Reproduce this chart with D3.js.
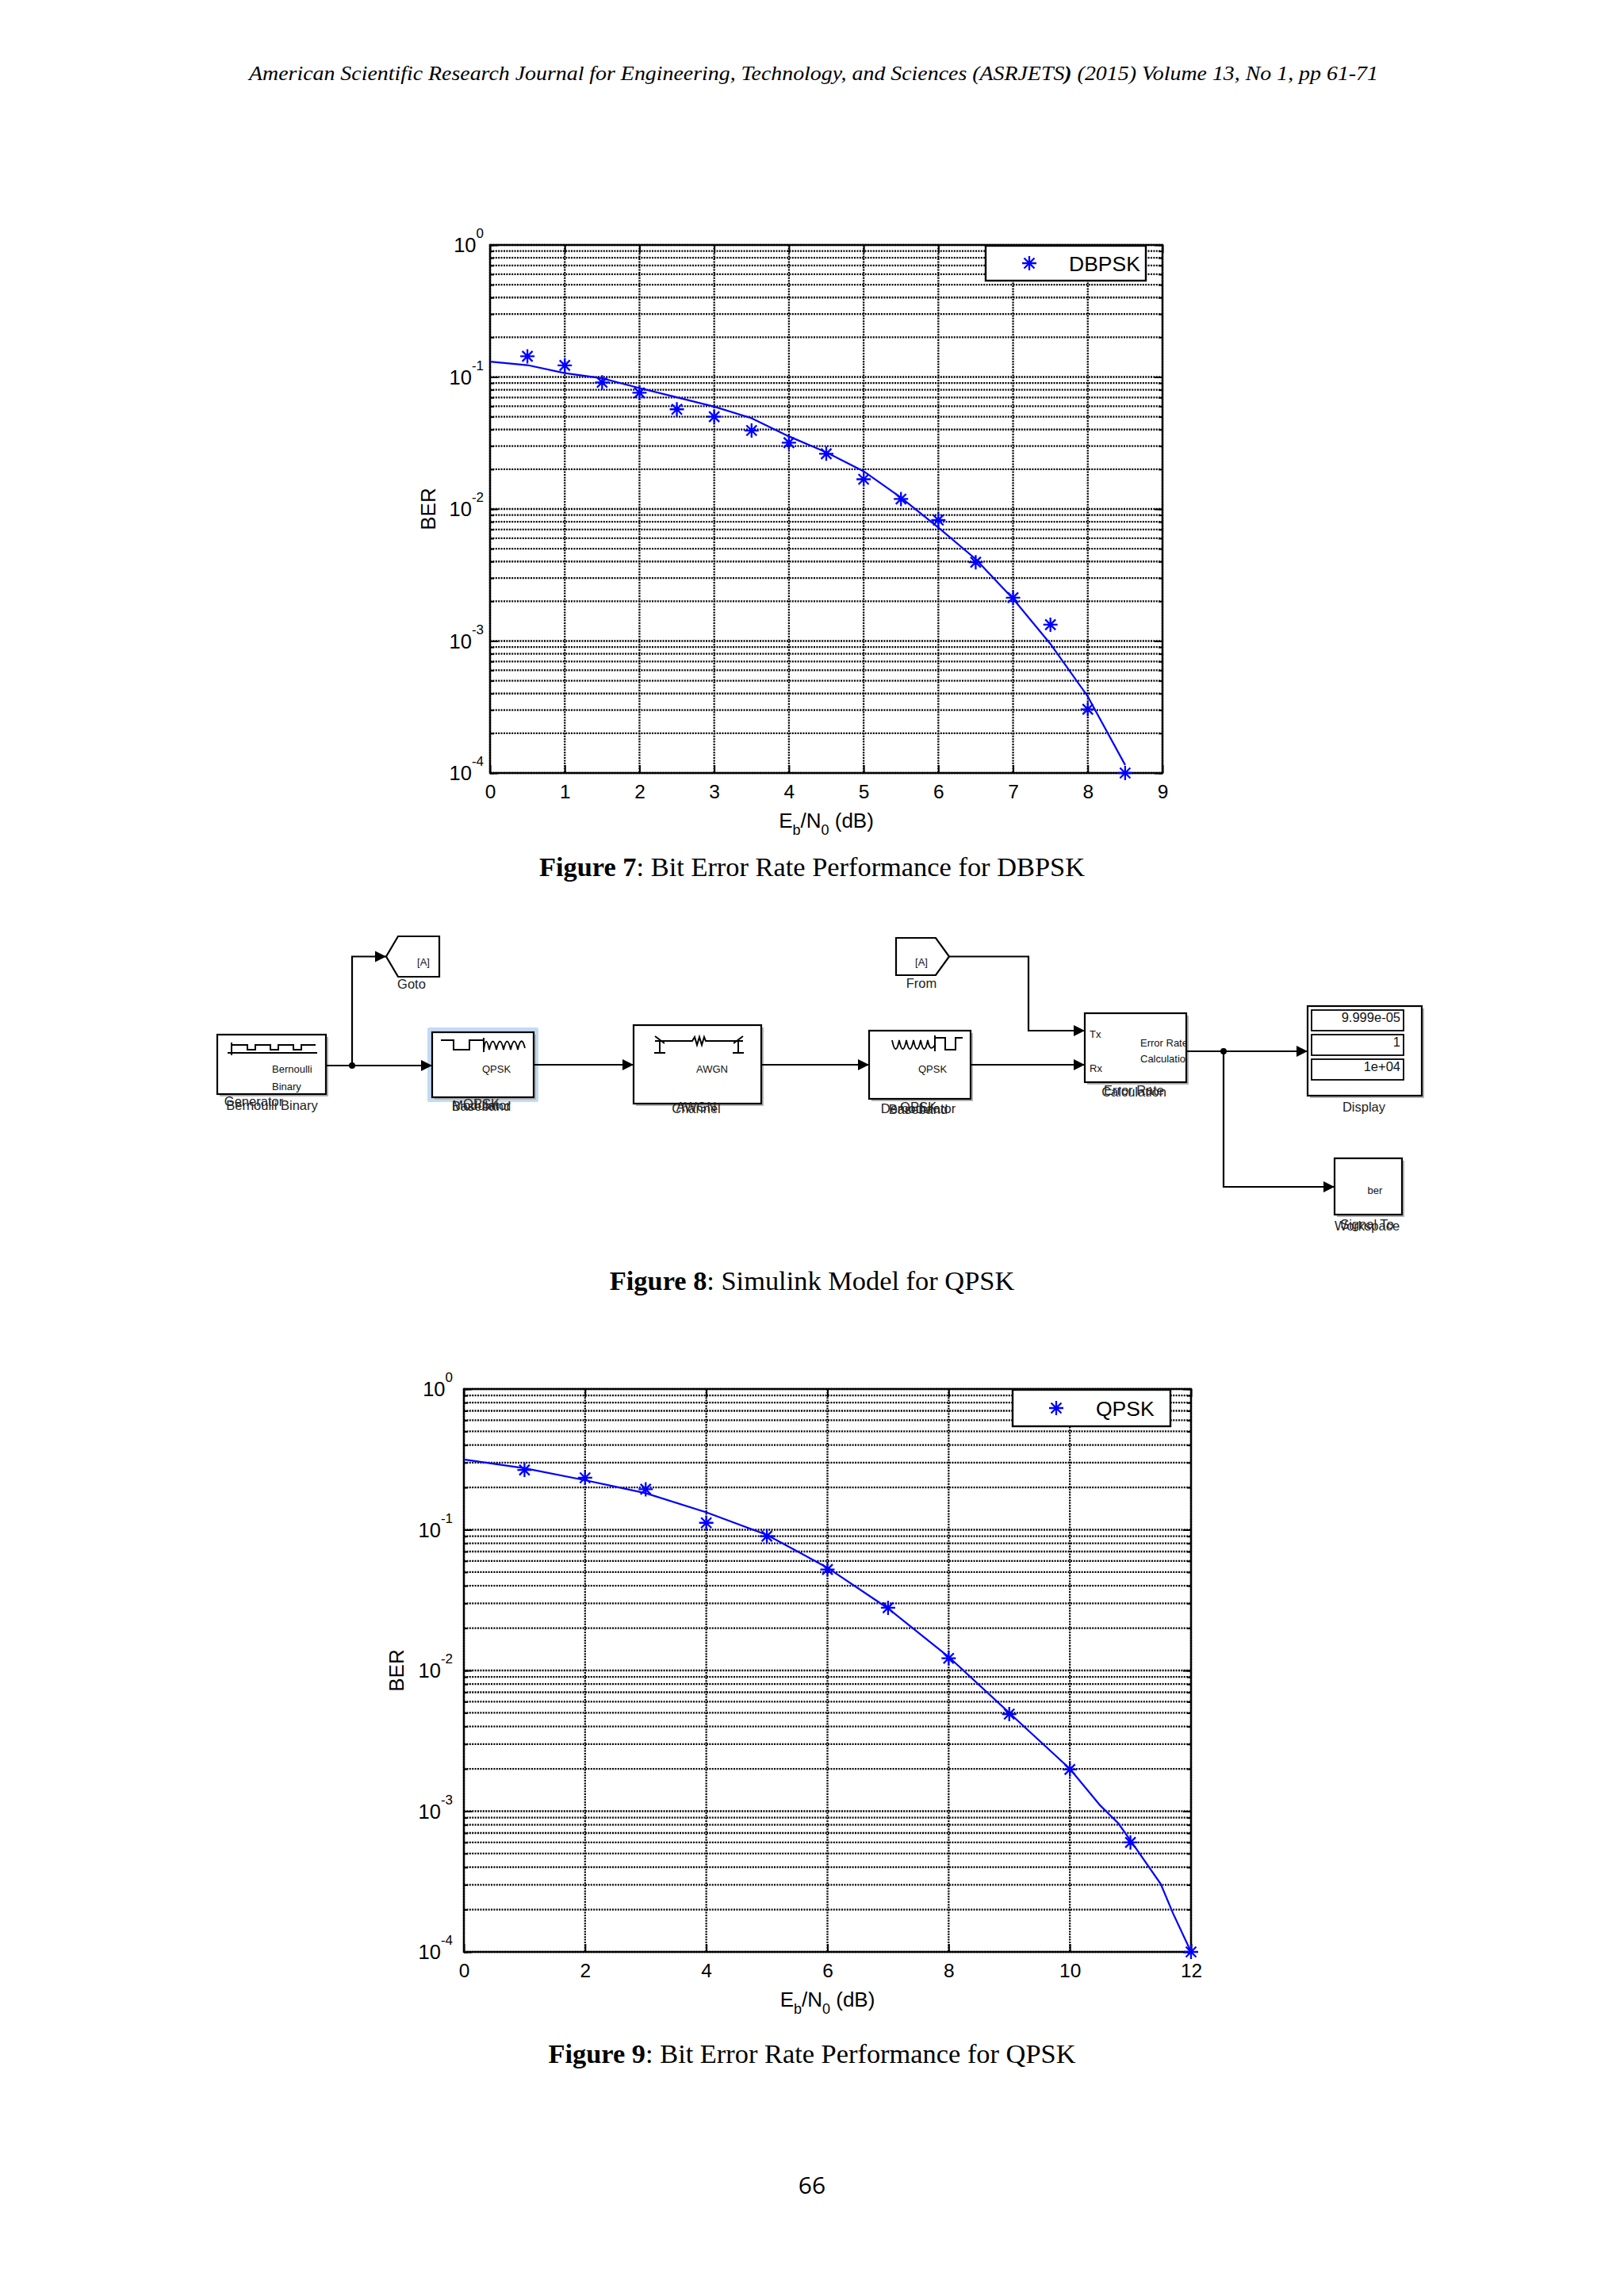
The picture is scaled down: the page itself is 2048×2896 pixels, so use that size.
<!doctype html>
<html lang="en">

<head>
  <meta charset="utf-8">
  <title>ASRJETS p.66 - BER for DBPSK and QPSK</title>
  <style>
    * { margin: 0; padding: 0; box-sizing: border-box; }
    body { background: #fff; }
    #page { width: 2048px; height: 2896px; }
  </style>
</head>

<body>
  <div id="page"></div>
  <script src="https://cdn.jsdelivr.net/npm/d3@7/dist/d3.min.js"></script>
  <script>
    // ---- data ----
    const dbpskSnr = [0.5, 1, 1.5, 2, 2.5, 3, 3.5, 4, 4.5, 5, 5.5, 6, 6.5, 7, 7.5, 8, 8.5];
    const dbpskBer = [0.1435, 0.1224, 0.091, 0.0759, 0.0569, 0.050, 0.0393, 0.0318, 0.0262,
                      0.0168, 0.0119, 0.00824, 0.00395, 0.00213, 0.00133, 0.000304, 0.0001];
    const dbpskCurveSnr = [0, 0.5, 1, 1.5, 2, 2.5, 3, 3.5, 4, 4.5, 5, 5.5, 6, 6.5, 7, 7.5, 8, 8.5];
    const dbpskCurveBer = [0.1306, 0.123, 0.107, 0.0977, 0.0824, 0.0701, 0.0596, 0.0487, 0.0355,
                           0.0269, 0.0193, 0.0122, 0.00724, 0.00417, 0.00209, 0.00095, 0.00038, 0.000115];

    const qpskSnr = [1, 2, 3, 4, 5, 6, 7, 8, 9, 10, 11, 12];
    const qpskBer = [0.266, 0.234, 0.194, 0.112, 0.090, 0.0522, 0.0279, 0.0122, 0.0049, 0.00198, 0.0006, 0.0001];
    const qpskCurveSnr = [0, 1, 2, 3, 4, 5, 6, 7, 8, 9, 10, 10.5, 10.8, 11, 11.5, 11.7, 12];
    const qpskCurveBer = [0.316, 0.274, 0.225, 0.182, 0.133, 0.092, 0.0537, 0.0276, 0.0125, 0.0050,
                          0.0020, 0.0011, 0.00082, 0.00062, 0.000304, 0.000189, 0.0001];

    const dbpskXTicks = [0, 1, 2, 3, 4, 5, 6, 7, 8, 9];
    const qpskXTicks = [0, 2, 4, 6, 8, 10, 12];
    const berExponents = [-4, -3, -2, -1, 0];

    const displayValues = ['9.999e-05', '1', '1e+04'];

    const headerText = 'American Scientific Research Journal for Engineering, Technology, and Sciences (ASRJETS';
    const headerTail = ' (2015) Volume 13, No  1, pp 61-71';

    const SANS = '"Liberation Sans", Arial, Helvetica, sans-serif';
    const SERIF = '"Liberation Serif", "Times New Roman", serif';

    const svg = d3.select('#page').append('svg')
      .attr('width', 2048).attr('height', 2896)
      .attr('viewBox', '0 0 2048 2896');
    svg.append('rect').attr('width', 2048).attr('height', 2896).attr('fill', '#fff');

    // ---- running header ----
    const head = svg.append('text')
      .attr('x', 1026).attr('y', 101)
      .attr('text-anchor', 'middle')
      .attr('font-family', SERIF).attr('font-style', 'italic').attr('font-size', 25)
      .attr('textLength', 1424).attr('lengthAdjust', 'spacingAndGlyphs');
    head.append('tspan').text(headerText);
    head.append('tspan').attr('font-weight', 'bold').text(')');
    head.append('tspan').text(headerTail);

    // asterisk marker like matlab '*'
    function starPath(r) {
      const k = r * 0.72;
      return `M0,${-r}V${r}M${-r},0H${r}M${-k},${-k}L${k},${k}M${-k},${k}L${k},${-k}`;
    }

    function drawBer(cfg) {
      const g = svg.append('g');
      const x = d3.scaleLinear().domain([0, cfg.xMax]).range([cfg.left, cfg.right]);
      const y = d3.scaleLog().domain([1e-4, 1]).range([cfg.bottom, cfg.top]);
      const minorY = y.ticks();
      const decades = berExponents.map(e => Math.pow(10, e));

      // dotted grid
      const grid = g.append('g')
        .attr('stroke', '#000').attr('stroke-width', 2.3).attr('stroke-dasharray', '2,1.4');
      grid.selectAll('line.h').data(minorY).join('line').attr('class', 'h')
        .attr('x1', cfg.left).attr('x2', cfg.right)
        .attr('y1', d => y(d)).attr('y2', d => y(d));
      grid.selectAll('line.v').data(cfg.xTicks).join('line').attr('class', 'v')
        .attr('x1', d => x(d)).attr('x2', d => x(d))
        .attr('y1', cfg.top).attr('y2', cfg.bottom);

      // inward ticks on all four sides
      const styleAxis = sel => {
        sel.select('.domain').remove();
        sel.selectAll('line').attr('stroke', '#000').attr('stroke-width', 2);
      };
      g.append('g').attr('transform', `translate(0,${cfg.bottom})`)
        .call(d3.axisBottom(x).tickValues(cfg.xTicks).tickSize(-10).tickSizeOuter(0).tickPadding(15)
          .tickFormat(d3.format('d')))
        .call(styleAxis)
        .call(s => s.selectAll('text').attr('font-family', SANS).attr('font-size', 24.5).attr('fill', '#000'));
      g.append('g').attr('transform', `translate(0,${cfg.top})`)
        .call(d3.axisTop(x).tickValues(cfg.xTicks).tickSize(-10).tickSizeOuter(0).tickFormat(''))
        .call(styleAxis);
      [[d3.axisLeft, cfg.left], [d3.axisRight, cfg.right]].forEach(([ax, px]) => {
        g.append('g').attr('transform', `translate(${px},0)`)
          .call(ax(y).tickValues(minorY).tickSize(-5).tickSizeOuter(0).tickFormat(''))
          .call(styleAxis);
        g.append('g').attr('transform', `translate(${px},0)`)
          .call(ax(y).tickValues(decades).tickSize(-10).tickSizeOuter(0).tickFormat(''))
          .call(styleAxis);
      });

      // y labels 10^n
      g.append('g').selectAll('text').data(berExponents).join('text')
        .attr('x', cfg.left - cfg.yLabelGap)
        .attr('y', e => y(Math.pow(10, e)) + 9)
        .attr('text-anchor', 'end')
        .attr('font-family', SANS).attr('font-size', 25.5).attr('fill', '#000')
        .each(function (e) {
          const t = d3.select(this);
          t.append('tspan').text('10');
          t.append('tspan').attr('dy', -18).attr('font-size', 17).text(e);
        });

      // box
      g.append('rect')
        .attr('x', cfg.left).attr('y', cfg.top)
        .attr('width', cfg.right - cfg.left).attr('height', cfg.bottom - cfg.top)
        .attr('fill', 'none').attr('stroke', '#000').attr('stroke-width', 2.4);

      // axis titles
      const xt = g.append('text')
        .attr('x', (cfg.left + cfg.right) / 2).attr('y', cfg.bottom + 69)
        .attr('text-anchor', 'middle')
        .attr('font-family', SANS).attr('font-size', 26).attr('fill', '#000');
      xt.append('tspan').text('E');
      xt.append('tspan').attr('dy', 9).attr('font-size', 18).text('b');
      xt.append('tspan').attr('dy', -9).text('/N');
      xt.append('tspan').attr('dy', 9).attr('font-size', 18).text('0');
      xt.append('tspan').attr('dy', -9).text(' (dB)');

      g.append('text')
        .attr('transform', `translate(${cfg.yTitleX},${(cfg.top + cfg.bottom) / 2}) rotate(-90)`)
        .attr('text-anchor', 'middle').attr('dy', '0.36em')
        .attr('font-family', SANS).attr('font-size', 26).attr('fill', '#000')
        .text('BER');

      // series
      const curve = cfg.curveSnr.map((s, i) => [s, cfg.curveBer[i]]);
      g.append('path').datum(curve)
        .attr('d', d3.line().x(d => x(d[0])).y(d => y(d[1])))
        .attr('fill', 'none').attr('stroke', '#0000ff').attr('stroke-width', 2.2);

      const pts = cfg.snr.map((s, i) => [s, cfg.ber[i]]);
      g.append('g').selectAll('path').data(pts).join('path')
        .attr('transform', d => `translate(${x(d[0])},${y(d[1])})`)
        .attr('d', starPath(9))
        .attr('fill', 'none').attr('stroke', '#0000ff').attr('stroke-width', 2.3);

      // legend
      const lg = g.append('g');
      lg.append('rect')
        .attr('x', cfg.legend.x).attr('y', cfg.top + 1)
        .attr('width', cfg.legend.w).attr('height', cfg.legend.h)
        .attr('fill', '#fff').attr('stroke', '#000').attr('stroke-width', 2.4);
      lg.append('path')
        .attr('transform', `translate(${cfg.legend.x + 55},${cfg.top + 1 + cfg.legend.h / 2})`)
        .attr('d', starPath(9))
        .attr('fill', 'none').attr('stroke', '#0000ff').attr('stroke-width', 2.3);
      lg.append('text')
        .attr('x', cfg.legend.x + 105).attr('y', cfg.top + 1 + cfg.legend.h / 2 + 10)
        .attr('font-family', SANS).attr('font-size', 26.5).attr('fill', '#000')
        .text(cfg.name);
    }

    drawBer({
      left: 618, right: 1466, top: 309, bottom: 975, xMax: 9, xTicks: dbpskXTicks,
      yLabelGap: 8, yTitleX: 540,
      snr: dbpskSnr, ber: dbpskBer, curveSnr: dbpskCurveSnr, curveBer: dbpskCurveBer,
      legend: { x: 1243, w: 202, h: 44 }, name: 'DBPSK'
    });

    drawBer({
      left: 585, right: 1502, top: 1752, bottom: 2462, xMax: 12, xTicks: qpskXTicks,
      yLabelGap: 14, yTitleX: 500,
      snr: qpskSnr, ber: qpskBer, curveSnr: qpskCurveSnr, curveBer: qpskCurveBer,
      legend: { x: 1277, w: 199, h: 46 }, name: 'QPSK'
    });

    // ---- captions ----
    function caption(num, rest, yBase) {
      const t = svg.append('text')
        .attr('x', 1024).attr('y', yBase).attr('text-anchor', 'middle')
        .attr('font-family', SERIF).attr('font-size', 34.4).attr('fill', '#000');
      t.append('tspan').attr('font-weight', 'bold').text('Figure ' + num);
      t.append('tspan').text(': ' + rest);
    }
    caption(7, 'Bit Error Rate Performance for DBPSK', 1105);
    caption(8, 'Simulink Model for QPSK', 1627);
    caption(9, 'Bit Error Rate Performance for QPSK', 2602);

    svg.append('text')
      .attr('x', 1024).attr('y', 2767).attr('text-anchor', 'middle')
      .attr('font-family', '"Open Sans", "Noto Sans", sans-serif').attr('font-size', 30).attr('fill', '#000')
      .text('66');

    // ---- Figure 8: simulink model ----
    const sm = svg.append('g').attr('font-family', SANS);
    const defs = svg.append('defs');

    function block(x0, y0, w, h, id) {
      sm.append('rect').attr('x', x0 + 3).attr('y', y0 + 3).attr('width', w).attr('height', h)
        .attr('fill', '#b5b5b5');
      sm.append('rect').attr('x', x0).attr('y', y0).attr('width', w).attr('height', h)
        .attr('fill', '#fff').attr('stroke', '#000').attr('stroke-width', 2.2);
      if (id) {
        defs.append('clipPath').attr('id', id).append('rect')
          .attr('x', x0).attr('y', y0).attr('width', w).attr('height', h);
      }
    }
    function txt(s, x0, y0, size, anchor, clip) {
      const t = sm.append('text').attr('x', x0).attr('y', y0)
        .attr('font-size', size).attr('fill', '#111')
        .attr('text-anchor', anchor || 'start').text(s);
      if (clip) t.attr('clip-path', `url(#${clip})`);
      return t;
    }
    // block names (simulink wraps them and here the lines sit on top of each other)
    function name(lines, cx, yBase) {
      lines.forEach((s, i) => txt(s, cx, yBase + i * 1.5, 16.5, 'middle').attr('fill', '#222'));
    }
    function wire(pts, arrow) {
      sm.append('path').attr('d', d3.line()(pts))
        .attr('fill', 'none').attr('stroke', '#000').attr('stroke-width', 2.2);
      if (arrow) {
        const [xe, ye] = pts[pts.length - 1];
        sm.append('path').attr('d', `M${xe},${ye}L${xe - 14},${ye - 7}L${xe - 14},${ye + 7}Z`).attr('fill', '#000');
      }
    }
    function dot(x0, y0) {
      sm.append('circle').attr('cx', x0).attr('cy', y0).attr('r', 4).attr('fill', '#000');
    }
    function icon(d, w) {
      sm.append('path').attr('d', d).attr('fill', 'none').attr('stroke', '#000').attr('stroke-width', w || 2);
    }

    // Bernoulli Binary Generator
    block(274, 1305, 137, 75);
    icon('M287,1328H400M292,1315V1331');
    icon('M292,1318H312V1324H322V1318H341V1324H351V1318H370V1324H380V1318H398');
    txt('Bernoulli', 343, 1353, 13);
    txt('Binary', 343, 1375, 13);
    txt('Generator', 320, 1395, 16.5, 'middle').attr('fill', '#222');
    txt('Bernoulli Binary', 343, 1400, 16.5, 'middle').attr('fill', '#222');

    // Goto / From tags
    sm.append('path').attr('d', 'M502,1181H554V1232H502L487,1206.5Z')
      .attr('fill', '#fff').attr('stroke', '#000').attr('stroke-width', 2.2);
    txt('[A]', 534, 1218, 13, 'middle');
    name(['Goto'], 519, 1247);

    sm.append('path').attr('d', 'M1130,1183H1180L1197,1206.5L1180,1230H1130Z')
      .attr('fill', '#fff').attr('stroke', '#000').attr('stroke-width', 2.2);
    txt('[A]', 1162, 1218, 13, 'middle');
    name(['From'], 1162, 1246);

    // QPSK Modulator Baseband (selected, blue halo)
    sm.append('rect').attr('x', 539).attr('y', 1296).attr('width', 140).attr('height', 94)
      .attr('fill', '#c4daf3').attr('rx', 2);
    block(545, 1302, 128, 82);
    icon('M556,1312H572V1324H592V1312H610M610,1309V1327');
    icon('M610,1325C612,1310 614,1310 617,1324C620,1310 623,1310 626,1324C629,1310 632,1310 635,1324' +
         'C638,1310 641,1310 644,1324C647,1310 650,1310 653,1324C656,1310 659,1310 662,1322', 1.8);
    txt('QPSK', 626, 1353, 13, 'middle');
    name(['QPSK', 'Modulator', 'Baseband'], 607, 1398);

    // AWGN Channel
    block(799, 1293, 161, 99);
    icon('M826,1313H873L876,1308L879,1318L882,1308L885,1318L888,1308L890,1313H937');
    icon('M826,1307L838,1316M832,1313V1328M825,1328H839');
    icon('M937,1307L925,1316M931,1313V1328M924,1328H938');
    txt('AWGN', 898, 1353, 13, 'middle');
    name(['AWGN', 'Channel'], 878, 1402);

    // QPSK Demodulator Baseband
    block(1096, 1300, 128, 86);
    icon('M1125,1312C1128,1327 1131,1327 1134,1312C1137,1327 1140,1327 1143,1312C1146,1327 1149,1327 1152,1312' +
         'C1155,1327 1158,1327 1161,1312C1164,1327 1167,1327 1170,1312C1172,1324 1175,1324 1179,1318', 1.8);
    icon('M1179,1306V1326M1179,1309H1192V1324H1205V1309H1214');
    txt('QPSK', 1176, 1353, 13, 'middle');
    name(['QPSK', 'Demodulator', 'Baseband'], 1158, 1402);

    // Error Rate Calculation
    block(1368, 1278, 128, 87, 'clipErr');
    txt('Tx', 1374, 1309, 13);
    txt('Rx', 1374, 1352, 13);
    txt('Error Rate', 1438, 1320, 13, 'start', 'clipErr');
    txt('Calculation', 1438, 1340, 13, 'start', 'clipErr');
    name(['Error Rate', 'Calculation'], 1430, 1381);

    // Display
    block(1649, 1269, 144, 113);
    const fieldTop = [1274, 1305, 1336];
    displayValues.forEach((v, i) => {
      sm.append('rect').attr('x', 1654).attr('y', fieldTop[i]).attr('width', 116).attr('height', 26)
        .attr('fill', '#fff').attr('stroke', '#000').attr('stroke-width', 1.8);
      txt(v, 1766, fieldTop[i] + 15, 16.5, 'end');
    });
    name(['Display'], 1720, 1402);

    // Signal To Workspace
    block(1683, 1461, 85, 71);
    txt('ber', 1734, 1506, 13, 'middle');
    name(['Signal To', 'Workspace'], 1724, 1550);

    // wires
    wire([[411, 1344], [545, 1344]], true);
    dot(444, 1344);
    wire([[444, 1344], [444, 1206.5], [487, 1206.5]], true);
    wire([[673, 1343], [799, 1343]], true);
    wire([[960, 1343], [1096, 1343]], true);
    wire([[1224, 1343], [1368, 1343]], true);
    wire([[1197, 1206.5], [1297, 1206.5], [1297, 1300], [1368, 1300]], true);
    wire([[1496, 1326], [1649, 1326]], true);
    dot(1543, 1326);
    wire([[1543, 1326], [1543, 1497], [1683, 1497]], true);
  </script>
</body>

</html>
